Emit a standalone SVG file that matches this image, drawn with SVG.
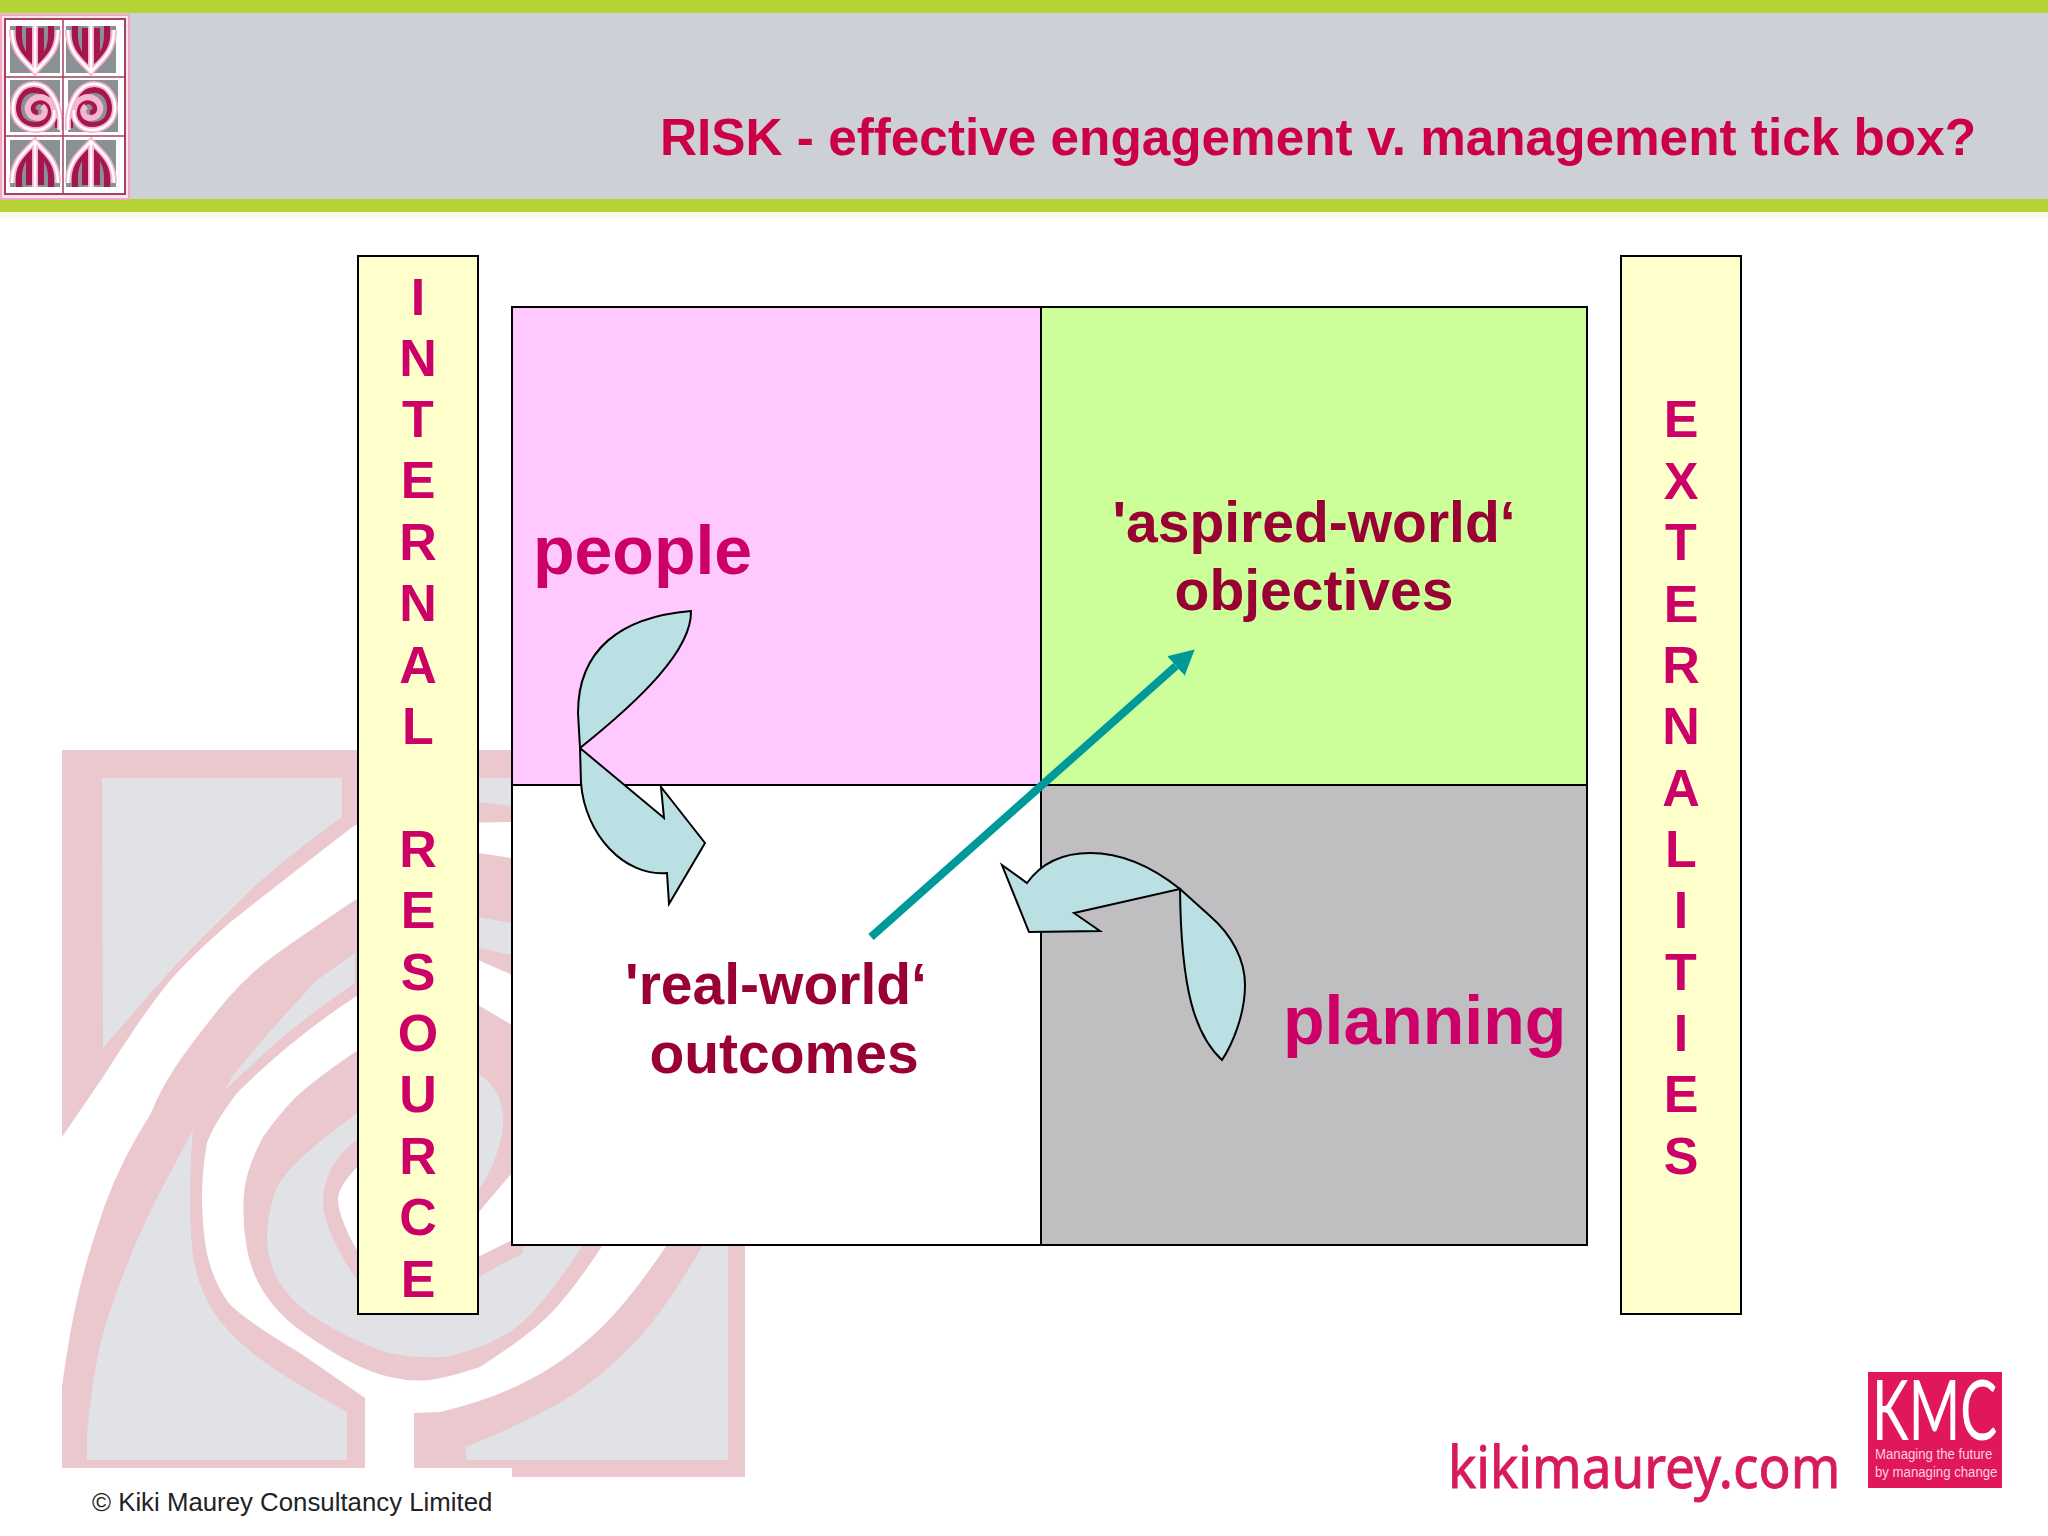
<svg xmlns="http://www.w3.org/2000/svg" xmlns:xlink="http://www.w3.org/1999/xlink" width="2048" height="1536" viewBox="0 0 2048 1536">
<style>
text{font-family:"Liberation Sans",Arial,sans-serif}
.b{font-weight:bold}
.col{font-size:52px;font-weight:bold;fill:#CC0066;text-anchor:middle}
.big{font-size:68px;font-weight:bold;fill:#CC0066}
.mid{font-size:57px;font-weight:bold;fill:#990033;text-anchor:middle}
.box{stroke:#000;stroke-width:2}
.leaf{fill:#BBE0E3;stroke:#000;stroke-width:2;stroke-linejoin:miter}
.wp{fill:#EAC8CE}.wg{fill:#E0E2E5}.ww{fill:#fff}
.lg{fill:none;stroke:#A5154F;stroke-width:6}
.ll{fill:none;stroke:#F7B6D0;stroke-width:6}
.lw{fill:none;stroke:#fff;stroke-width:2.5}
</style>
<defs>
<marker id="head" markerUnits="userSpaceOnUse" markerWidth="30" markerHeight="30" refX="0" refY="13" orient="auto"><polygon points="0,0 25,13 0,26" fill="#009999"/></marker>
<g id="tu"><rect x="0" y="0" width="50" height="47" fill="#8A9093"/><path class="lg" d="M9 0V10C9 26 18 34 25 42C32 34 41 26 41 10V0M19 2V38H31V2"/><path class="ll" d="M2 4C2 28 17 36 25 46C33 36 48 28 48 4M25 0V47"/><path class="lw" d="M2 4C2 28 17 36 25 46C33 36 48 28 48 4M25 0V47"/></g>
<g id="sp"><rect x="0" y="0" width="50" height="52" fill="#8A9093"/><path class="lg" d="M48 48C48 25 38 10 24 10C12 10 8 20 8 28C8 40 16 45 26 45C35 45 40 38 39 30C37 22 30 19 25 23C20 28 23 33 28 33"/><path class="ll" d="M50 50C52 25 40 4 24 4C8 4 3 20 3 28C3 42 14 50 26 50C38 50 46 40 44 30C42 18 30 14 22 20C14 27 18 38 28 38C35 38 37 30 32 26"/><path class="lw" d="M50 50C52 25 40 4 24 4C8 4 3 20 3 28C3 42 14 50 26 50C38 50 46 40 44 30"/></g>
</defs>
<rect width="2048" height="1536" fill="#fff"/>
<g id="watermark">
<rect class="wp" x="62" y="750" width="450" height="718"/>
<rect class="wp" x="512" y="1240" width="233" height="237"/>
<path class="wg" d="M102 778H342V817Q283 860 255 886Q227 913 197 943Q167 973 103 1048Z"/>
<path class="wg" d="M478 778H512V806L478 802Z"/>
<path class="ww" d="M62 1137L103 1077Q150 1003 175 975Q200 948 233 920Q267 893 355 825L512 822V858L478 853L355 900Q300 937 275 955Q250 973 228 998Q207 1023 185 1053Q163 1083 150 1115Q123 1157 106 1202Q90 1247 80 1287Q70 1327 62 1387Z"/>
<path class="wg" d="M355 953L317 980Q267 1033 232 1077L225 1090L257 1060Q300 1020 355 983Z"/>
<path class="wg" d="M478 917L512 923V955L478 948Z"/>
<path class="wg" d="M87 1460H347V1412Q283 1377 255 1355Q227 1333 213 1311Q200 1290 195 1266Q190 1243 190 1200Q190 1160 193 1130L170 1173Q143 1223 127 1265Q110 1307 100 1345Q92 1383 87 1433Z"/>
<path class="ww" d="M365 1468V1398L300 1353Q240 1317 228 1302Q217 1287 210 1265Q203 1243 202 1200Q202 1170 207 1143Q213 1125 237 1093Q290 1040 355 997L478 960L512 975V1025L478 1005L355 1052Q310 1083 295 1098Q280 1113 263 1137Q247 1167 244 1192Q242 1217 246 1243Q250 1270 263 1291Q277 1313 297 1328Q317 1343 343 1358Q370 1373 390 1377Q410 1382 430 1380Q450 1377 480 1367Q533 1333 553 1311Q573 1290 603 1245H667Q623 1310 590 1338Q557 1367 523 1383Q490 1400 440 1412L414 1413V1468Z"/>
<path class="wg" d="M357 1113Q283 1167 275 1192Q267 1217 267 1238Q267 1260 278 1280Q290 1300 311 1315Q333 1330 358 1341Q383 1353 400 1355Q417 1358 445 1357Q490 1347 515 1328Q540 1310 583 1245H523V1253L478 1277V1190C490 1175 503 1145 503 1120C503 1100 495 1085 478 1073Z"/>
<path class="wp" d="M357 1140C335 1155 323 1180 323 1200C323 1225 340 1255 357 1280L478 1277V1190Z"/>
<path class="ww" d="M357 1167C345 1180 338 1190 338 1200C338 1212 348 1235 357 1250L478 1257L512 1240V1173L478 1213Z"/>
<path class="wg" d="M728 1245V1460H467L465 1447Q540 1417 577 1392Q613 1367 640 1337Q667 1307 703 1245Z"/>
</g>
<g id="header">
<rect x="0" y="0" width="2048" height="13" fill="#B5D334"/>
<rect x="0" y="13" width="2048" height="186" fill="#CDD1D7"/>
<rect x="0" y="199" width="2048" height="13" fill="#B5D334"/>
<rect x="0" y="212" width="2048" height="6" fill="#F8FBEC"/>
<text class="b" x="1976" y="155" text-anchor="end" font-size="51.3" fill="#CC0044">RISK - effective engagement v. management tick box?</text>
</g>
<g id="logo">
<rect x="1" y="15" width="128" height="184" fill="#FBE4EE" stroke="#F0A8C4" stroke-width="2"/>
<rect x="5" y="19" width="120" height="175" fill="#fff" stroke="#A5405F" stroke-width="2"/>
<use xlink:href="#tu" href="#tu" x="10" y="26"/>
<use xlink:href="#tu" href="#tu" x="66" y="26"/>
<g transform="translate(10,80)"><use xlink:href="#sp" href="#sp"/></g>
<g transform="translate(118,80) scale(-1,1)"><use xlink:href="#sp" href="#sp"/></g>
<g transform="translate(10,187) scale(1,-1)"><use xlink:href="#tu" href="#tu"/></g>
<g transform="translate(66,187) scale(1,-1)"><use xlink:href="#tu" href="#tu"/></g>
<path d="M63 19V194M5 77H125M5 136H125" stroke="#A5405F" stroke-width="1.5" fill="none"/>
</g>
<g id="internal-resource">
<rect class="box" x="358" y="256" width="120" height="1058" fill="#FFFFCC"/>
<text class="col" x="418" y="315">I</text><text class="col" x="418" y="376">N</text><text class="col" x="418" y="437">T</text><text class="col" x="418" y="498">E</text><text class="col" x="418" y="560">R</text><text class="col" x="418" y="621">N</text><text class="col" x="418" y="683">A</text><text class="col" x="418" y="744">L</text>
<text class="col" x="418" y="867">R</text><text class="col" x="418" y="928">E</text><text class="col" x="418" y="990">S</text><text class="col" x="418" y="1051">O</text><text class="col" x="418" y="1112">U</text><text class="col" x="418" y="1174">R</text><text class="col" x="418" y="1235">C</text><text class="col" x="418" y="1297">E</text>
</g>
<g id="externalities">
<rect class="box" x="1621" y="256" width="120" height="1058" fill="#FFFFCC"/>
<text class="col" x="1681" y="437">E</text><text class="col" x="1681" y="499">X</text><text class="col" x="1681" y="560">T</text><text class="col" x="1681" y="622">E</text><text class="col" x="1681" y="683">R</text><text class="col" x="1681" y="744">N</text><text class="col" x="1681" y="806">A</text><text class="col" x="1681" y="867">L</text><text class="col" x="1681" y="928">I</text><text class="col" x="1681" y="990">T</text><text class="col" x="1681" y="1051">I</text><text class="col" x="1681" y="1112">E</text><text class="col" x="1681" y="1174">S</text>
</g>
<g id="quad-people"><rect class="box" x="512" y="307" width="529" height="478" fill="#FFC8FF"/><text class="big" x="533" y="574">people</text></g>
<g id="quad-aspired"><rect class="box" x="1041" y="307" width="546" height="478" fill="#CCFF99"/><text class="mid" x="1314" y="542">'aspired-world‘</text><text class="mid" x="1314" y="610">objectives</text></g>
<g id="quad-real"><rect class="box" x="512" y="785" width="529" height="460" fill="#fff"/><text class="mid" x="776" y="1004">'real-world‘</text><text class="mid" x="784" y="1073">outcomes</text></g>
<g id="quad-planning"><rect class="box" x="1041" y="785" width="546" height="460" fill="#BFBEC0"/><text class="big" x="1283" y="1044">planning</text></g>
<g id="connectors">
<path class="leaf" d="M580 748L578 713C578 650 620 617 691 611C692 650 640 700 580 748Z"/>
<path class="leaf" d="M580 748L664 818L661 787L705 843L669 904L667 873C625 877 585 835 581 783Z"/>
<path class="leaf" d="M1180 889C1150 865 1120 853 1090 853C1060 853 1040 865 1027 883L1002 865L1029 932L1100 931L1074 913Z"/>
<path class="leaf" d="M1180 889L1210 916C1232 935 1245 960 1245 985C1245 1015 1232 1045 1222 1060C1195 1035 1181 990 1180 889Z"/>
<line x1="871" y1="937" x2="1176" y2="666" stroke="#009999" stroke-width="8" marker-end="url(#head)"/>
</g>
<g id="kiki-logo">
<text transform="translate(1448,1488) scale(0.915,1)" font-size="58" fill="#D81B5A" stroke="#D81B5A" stroke-width="0.9" style="font-family:'Noto Sans',sans-serif">kikimaurey.com</text>
</g>
<g id="kmc-logo">
<rect x="1868" y="1372" width="134" height="116" fill="#E0175A"/>
<text transform="translate(1872,1440) scale(0.66,1)" font-size="84" fill="#fff" style="font-family:Lato,sans-serif">KMC</text>
<text transform="translate(1875,1459) scale(0.88,1)" font-size="15" fill="#FFD0DF">Managing the future</text>
<text transform="translate(1875,1477) scale(0.88,1)" font-size="15" fill="#FFD0DF">by managing change</text>
</g>
<text id="copyright" x="92" y="1511" font-size="25.8" fill="#222">© Kiki Maurey Consultancy Limited</text>
</svg>
